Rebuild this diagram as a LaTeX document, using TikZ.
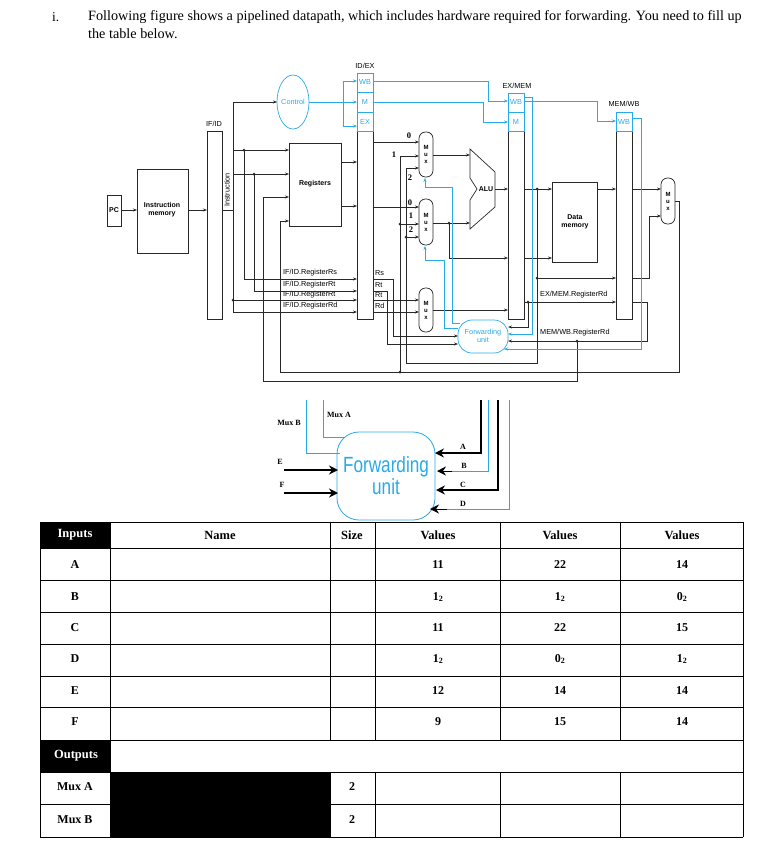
\documentclass[tikz,border=0pt]{standalone}
\usepackage{fontspec}
\setmainfont{Liberation Serif}
\setsansfont{Liberation Sans}
\usetikzlibrary{arrows.meta}
\definecolor{cb}{RGB}{40,170,230}
\definecolor{ln}{RGB}{40,40,40}
\begin{document}
\begin{tikzpicture}[x=1pt,y=-1pt,
  w/.style={draw=ln,line width=0.7pt},
  a/.style={w,-{Stealth[length=4pt,width=3pt]}},
  b/.style={draw=cb,line width=0.7pt},
  ba/.style={b,-{Stealth[length=4pt,width=3pt]}},
  lab/.style={font=\sffamily\fontsize{7.3}{8}\selectfont,inner sep=0pt},
  blab/.style={lab,text=cb},
  num/.style={font=\bfseries\fontsize{8.5}{8}\selectfont,inner sep=0pt},
  dot/.style={circle,fill=ln,inner sep=0pt,minimum size=3pt},
  big/.style={line width=2.4pt,-{Stealth[length=9pt,width=9pt]}},
  tb/.style={font=\bfseries\fontsize{12.5}{12}\selectfont},
  tv/.style={font=\bfseries\fontsize{12}{12}\selectfont}]
\useasboundingbox (0,0) rectangle (767,852);
% header text
\node[anchor=west,font=\fontsize{13.5}{15}\selectfont,inner sep=0pt] (ii) at (52,17) {i.};
\node[anchor=west,font=\fontsize{14.2}{15}\selectfont,inner sep=0pt] (t1) at (88,17) {Following figure shows a pipelined datapath, which includes hardware required for forwarding. You need to fill up};
\node[anchor=west,font=\fontsize{14.2}{15}\selectfont,inner sep=0pt] (t2) at (88,34) {the table below.};
% ---------- datapath boxes
\draw[w] (107,195) rectangle (121,226); \node[lab,font=\sffamily\bfseries\fontsize{7}{7}\selectfont] (pc) at (114,210) {PC};
\draw[w] (137,169) rectangle (188,253); \node[lab,font=\sffamily\bfseries\fontsize{7}{8}\selectfont,align=center] (im) at (162,210) {Instruction\\memory};
\draw[w] (207,131) rectangle (222,319); \node[lab] (ifid) at (214,124) {IF/ID};
\node[lab,rotate=90] (instr) at (227,190) {Instruction};
\draw[b] (293,102) ellipse (16 and 27); \node[blab] (ctrl) at (293,102) {Control};
% ID/EX
\draw[w] (357,131) rectangle (373,319);
\draw[b] (357,73) rectangle (373,131); \draw[b] (357,92)--(373,92); \draw[b] (357,112)--(373,112);
\node[blab] (i1) at (365,82) {WB}; \node[blab] (i2) at (365,102) {M}; \node[blab] (i3) at (365,122) {EX};
\node[lab] (idex) at (365,66) {ID/EX};
\draw[w] (289,143) rectangle (341,226); \node[lab,font=\sffamily\bfseries\fontsize{7}{7}\selectfont] (regs) at (315,184) {Registers};
% EX/MEM
\draw[w] (508,131) rectangle (524,319);
\draw[b] (508,93) rectangle (524,131); \draw[b] (508,112)--(524,112);
\node[blab] (e1) at (516,102) {WB}; \node[blab] (e2) at (516,122) {M};
\node[lab] (exmem) at (517,86) {EX/MEM};
% MEM/WB
\draw[w] (616,131) rectangle (632,319);
\draw[b] (616,112) rectangle (632,131); \node[blab] (m1) at (624,122) {WB};
\node[lab] (memwb) at (624,104) {MEM/WB};
\draw[w] (552,182) rectangle (597,262); \node[lab,font=\sffamily\bfseries\fontsize{7}{8}\selectfont,align=center] (dm) at (575,222) {Data\\memory};
% ALU
\draw[w] (470,149)--(495,172)--(495,207)--(470,229)--(470,200)--(477,189)--(470,178)--cycle;
\node[lab,font=\sffamily\bfseries\fontsize{7}{7}\selectfont] (alu) at (486,189) {ALU};
% muxes
\foreach \n/\x/\ya/\yb in {mA/419/132/177,mB/419/199/245,mC/419/288/332,mD/661/178/224}{
  \draw[w,rounded corners=6.5pt] (\x,\ya) rectangle (\x+14,\yb);
  \node[lab,font=\sffamily\bfseries\fontsize{6}{7}\selectfont,align=center] (\n) at (\x+7,{(\ya+\yb)/2}) {M\\u\\x};}
% forwarding unit
\draw[b,rounded corners=14pt] (458,320) rectangle (508,353);
\node[blab,align=center] (fu) at (483,336) {Forwarding\\unit};
% labels
\node[lab,anchor=west] (l1) at (283,273) {IF/ID.RegisterRs};
\node[lab,anchor=west] (l2) at (283,285) {IF/ID.RegisterRt};
\node[lab,anchor=west] (l3) at (283,295) {IF/ID.RegisterRt};
\node[lab,anchor=west] (l4) at (283,306) {IF/ID.RegisterRd};
\node[lab,anchor=west] (r1) at (375,273) {Rs};
\node[lab,anchor=west] (r2) at (375,285) {Rt};
\node[lab,anchor=west] (r3) at (375,295) {Rt};
\node[lab,anchor=west] (r4) at (375,306) {Rd};
\node[lab,anchor=west] (l5) at (540,295) {EX/MEM.RegisterRd};
\node[lab,anchor=west] (l6) at (540,333) {MEM/WB.RegisterRd};
\node[num] (n0) at (409,136) {0}; \node[num] (n1) at (394,155) {1}; \node[num] (n2) at (410,178) {2};
\node[num] (n3) at (410,203) {0}; \node[num] (n4) at (411,216) {1}; \node[num] (n5) at (411,230) {2};
% black wires
\draw[a] (121,210)--(137,210);
\draw[a] (188,210)--(207,210);
\draw[w] (222,210)--(233,210); \draw[w] (233,102)--(233,312);
\draw[a] (233,102)--(277,102);
\draw[a] (233,150)--(289,150); \draw[a] (244,150)--(244,279)--(357,279);
\draw[a] (233,174)--(289,174); \draw[a] (254,174)--(254,291)--(357,291);
\draw[a] (233,300)--(357,300); \draw[a] (373,300)--(419,300);
\draw[a] (233,312)--(357,312); \draw[a] (373,312)--(419,312);
\node[dot] at (244,150) {}; \node[dot] at (254,174) {}; \node[dot] at (233,300) {};
\draw[a] (341,162)--(357,162); \draw[a] (341,206)--(357,206);
\draw[a] (373,142)--(419,142); \draw[a] (373,207)--(419,207);
\draw[a] (373,279)--(393,279)--(393,336)--(458,336);
\draw[a] (373,291)--(387,291)--(387,344)--(458,344);
\draw[a] (433,310)--(508,310);
\draw[a] (263,381)--(263,197)--(289,197);
\draw[a] (280,372)--(280,221)--(289,221);
\draw[a] (400,372)--(400,156)--(419,156); \draw[a] (400,224)--(419,224);
\draw[a] (406,363)--(406,168)--(419,168); \draw[a] (406,237)--(419,237);
\node[dot] at (400,224) {}; \node[dot] at (406,237) {}; \node[dot] at (400,372) {};
\draw[a] (433,155)--(470,155); \draw[a] (433,223)--(470,223);
\draw[a] (449,223)--(449,258)--(508,258); \node[dot] at (449,223) {};
\draw[a] (495,189)--(508,189);
\draw[a] (524,189)--(552,189); \node[dot] at (537,189) {};
\draw[w] (537,189)--(537,363)--(406,363);
\draw[a] (537,278)--(616,278); \node[dot] at (537,278) {};
\draw[a] (524,258)--(552,258);
\draw[a] (524,302)--(616,302); \node[dot] at (528,302) {};
\draw[a] (528,302)--(528,327)--(508,327);
\draw[a] (597,189)--(616,189);
\draw[a] (632,189)--(661,189);
\draw[a] (632,278)--(649,278)--(649,216)--(661,216);
\draw[a] (632,302)--(647,302)--(647,341)--(508,341);
\draw[w] (577,341)--(577,381)--(263,381); \node[dot] at (577,341) {};
\draw[w] (675,201)--(679,201)--(679,372)--(280,372);
% blue wires
\draw[ba] (309,102)--(357,102);
\draw[b] (343,81)--(343,126); \draw[ba] (343,81)--(357,81); \draw[ba] (343,126)--(357,126);
\draw[ba] (373,81)--(488,81)--(488,101)--(508,101);
\draw[ba] (373,102)--(483,102)--(483,122)--(508,122);
\draw[ba] (524,101)--(597,101)--(597,121)--(616,121);
\draw[ba] (524,97)--(532,97)--(532,334)--(508,334);
\draw[ba] (632,118)--(641,118)--(641,349)--(504,349);
\draw[ba] (460,323)--(452,323)--(452,187)--(425,187)--(425,178);
\draw[ba] (458,328)--(444,328)--(444,260)--(425,260)--(425,246);
% ---------- lower forwarding unit
\draw[cb,line width=0.8pt,rounded corners=22pt] (337,432) rectangle (435,520);
\node[text=cb,font=\sffamily\fontsize{22}{24}\selectfont,align=center] (FU) at (386,476) {\scalebox{0.78}[1]{Forwarding}\\[-2pt]\scalebox{0.78}[1]{unit}};
\draw[b,line width=1pt] (306,400)--(306,453)--(340,453);
\draw[b,line width=1pt] (323,400)--(323,437)--(345,437);
\node[font=\bfseries\fontsize{8}{8}\selectfont] (mb) at (289,423) {Mux B};
\node[font=\bfseries\fontsize{8}{8}\selectfont] (ma) at (339,415) {Mux A};
\draw[line width=2.4pt] (481,400)--(481,453)--(455,453);
\draw[big] (460,453)--(435,453);
\draw[b,line width=1pt] (488,400)--(488,471)--(450,471);
\draw[big,line width=1pt] (452,471)--(437,471);
\draw[line width=2.4pt] (498,400)--(498,490)--(455,490);
\draw[big] (460,490)--(436,490);
\draw[b,line width=1pt] (509,400)--(509,509)--(445,509);
\draw[big,line width=1pt] (447,509)--(430,509);
\node[font=\bfseries\fontsize{8}{8}\selectfont] (A) at (463,447) {A};
\node[font=\bfseries\fontsize{8}{8}\selectfont] (B) at (464,466) {B};
\node[font=\bfseries\fontsize{8}{8}\selectfont] (C) at (463,485) {C};
\node[font=\bfseries\fontsize{8}{8}\selectfont] (D) at (463,504) {D};
\draw[big] (284,470)--(338,470);
\draw[big] (284,493)--(338,493);
\node[font=\bfseries\fontsize{8}{8}\selectfont] (E) at (280,462) {E};
\node[font=\bfseries\fontsize{8}{8}\selectfont] (F) at (282,485) {F};
% ---------- table
\fill (40,522) rectangle (110,548);
\fill (40,740) rectangle (110,772);
\fill (110,772) rectangle (330,837);
\foreach \y in {522,548,580,612,644,676,707,740,772,804,837} \draw[line width=0.7pt] (40,\y)--(743,\y);
\foreach \x in {40,743} \draw[line width=0.7pt] (\x,522)--(\x,837);
\foreach \x in {110,330,375,500,620} {\draw[line width=0.7pt] (\x,522)--(\x,740); \draw[line width=0.7pt] (\x,772)--(\x,837);}
\draw[line width=0.7pt] (110,740)--(110,772);
\node[tb,text=white] (hin) at (75,535) {Inputs};
\node[tb] (hn) at (220,535) {Name};
\node[tb] (hs) at (352,535) {Size};
\node[tb] (h1) at (438,535) {Values};
\node[tb] (h2) at (560,535) {Values};
\node[tb] (h3) at (682,535) {Values};
\foreach \r/\y/\p/\q/\s in {A/565/11/22/14,B/597/1\textsubscript{2}/1\textsubscript{2}/0\textsubscript{2},C/628/11/22/15,D/659/1\textsubscript{2}/0\textsubscript{2}/1\textsubscript{2},E/691/12/14/14,F/722/9/15/14}{
  \node[tv] at (75,\y) {\r};
  \node[tv] at (438,\y) {\p};
  \node[tv] at (560,\y) {\q};
  \node[tv] at (682,\y) {\s};}
\node[tb,text=white] (hout) at (76,756) {Outputs};
\node[tv] (ra) at (75,787) {Mux A};
\node[tv] (rb) at (75,820) {Mux B};
\node[tv] (s1) at (352,787) {2};
\node[tv] (s2) at (352,820) {2};
\end{tikzpicture}
\end{document}
